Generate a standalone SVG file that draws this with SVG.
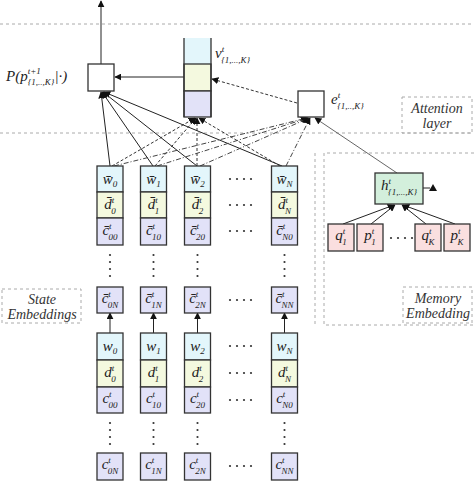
<svg xmlns="http://www.w3.org/2000/svg" width="474" height="481" viewBox="0 0 474 481">
<style>
.bx{stroke:#333;stroke-width:1.3}
.cy{fill:#e3f6fb}.yg{fill:#f4f9df}.lv{fill:#e2e2f8}.pk{fill:#fadfdf}.gr{fill:#d3efdc}.wh{fill:#fff}
text{font-family:'Liberation Serif','DejaVu Serif','Times New Roman',serif}
.m{font-style:italic;font-size:15px;fill:#222;text-anchor:middle}
.lab{font-style:italic;font-size:15px;fill:#222}
.s{font-size:9px}
.note{font-style:italic;font-size:14px;fill:#333;text-anchor:middle}
.gd{fill:none;stroke:#aaa;stroke-width:1;stroke-dasharray:3,3}
.dot{fill:#333}
.sl{fill:none;stroke:#222;stroke-width:1}
.dl{fill:none;stroke:#333;stroke-width:1;stroke-dasharray:3,2}
.dd{fill:none;stroke:#444;stroke-width:1;stroke-dasharray:5,2,1,2}
</style>
<defs>
<marker id="ah" viewBox="0 0 10 10" refX="9" refY="5" markerWidth="7" markerHeight="7" orient="auto" markerUnits="userSpaceOnUse"><path d="M0,0 L10,5 L0,10 z" fill="#111"/></marker>
<g id="hdots"><circle cx="0" cy="0" r="1.1" class="dot"/><circle cx="7" cy="0" r="1.1" class="dot"/><circle cx="14" cy="0" r="1.1" class="dot"/><circle cx="21" cy="0" r="1.1" class="dot"/></g>
<g id="vdots"><circle cx="0" cy="0" r="1.1" class="dot"/><circle cx="0" cy="7" r="1.1" class="dot"/><circle cx="0" cy="14" r="1.1" class="dot"/><circle cx="0" cy="21" r="1.1" class="dot"/></g>
</defs>
<rect width="474" height="481" fill="#fff"/>

<g id="regions">
<line x1="0" y1="24" x2="474" y2="24" class="gd"/>
<line x1="0" y1="133" x2="474" y2="133" class="gd"/>
<line x1="315" y1="153" x2="315" y2="325" class="gd"/>
<path d="M474,153 H324 V325 H474" class="gd"/>
</g>

<g id="attention-layer">
<rect x="402" y="97" width="70" height="36" class="gd"/>
<text x="437" y="113" class="note">Attention</text>
<text x="437" y="128" class="note">layer</text>
</g>
<g id="state-embeddings">
<rect x="2" y="289" width="79" height="34" class="gd"/>
<text x="42" y="304" class="note">State</text>
<text x="42" y="319" class="note">Embeddings</text>
</g>
<g id="memory-embedding">
<rect x="403" y="287" width="69" height="36" class="gd"/>
<text x="438" y="303" class="note">Memory</text>
<text x="438" y="318" class="note">Embedding</text>
</g>

<g id="connectors">
<line x1="101" y1="64" x2="101" y2="1" class="sl" marker-end="url(#ah)"/>
<line x1="184" y1="77" x2="115" y2="77" class="sl" marker-end="url(#ah)"/>
<line x1="297" y1="103" x2="212" y2="79" class="dl" marker-end="url(#ah)"/>
<line x1="397" y1="173" x2="315" y2="118" stroke="#555" stroke-width="0.9" fill="none" marker-end="url(#ah)"/>
<line x1="110" y1="166" x2="101" y2="92" class="sl" marker-end="url(#ah)"/>
<line x1="153" y1="166" x2="102" y2="92" class="sl" marker-end="url(#ah)"/>
<line x1="197" y1="166" x2="103" y2="92" class="sl" marker-end="url(#ah)"/>
<line x1="282" y1="166" x2="104" y2="92" class="sl" marker-end="url(#ah)"/>
<line x1="112" y1="166" x2="195" y2="118" class="dl" marker-end="url(#ah)"/>
<line x1="155" y1="166" x2="196" y2="118" class="dl" marker-end="url(#ah)"/>
<line x1="197" y1="166" x2="197" y2="118" class="dl" marker-end="url(#ah)"/>
<line x1="280" y1="166" x2="199" y2="118" class="dl" marker-end="url(#ah)"/>
<line x1="114" y1="166" x2="307" y2="118" class="dd" marker-end="url(#ah)"/>
<line x1="157" y1="166" x2="308" y2="118" class="dd" marker-end="url(#ah)"/>
<line x1="200" y1="166" x2="309" y2="118" class="dd" marker-end="url(#ah)"/>
<line x1="286" y1="166" x2="310" y2="118" class="dd" marker-end="url(#ah)"/>
<line x1="110" y1="333" x2="110" y2="313" class="sl" marker-end="url(#ah)"/>
<line x1="153.5" y1="333" x2="153.5" y2="313" class="sl" marker-end="url(#ah)"/>
<line x1="197.5" y1="333" x2="197.5" y2="313" class="sl" marker-end="url(#ah)"/>
<line x1="284.5" y1="333" x2="284.5" y2="313" class="sl" marker-end="url(#ah)"/>
<line x1="343" y1="224" x2="394" y2="205" class="sl" marker-end="url(#ah)"/>
<line x1="371" y1="224" x2="395" y2="205" class="sl" marker-end="url(#ah)"/>
<line x1="426" y1="224" x2="402" y2="205" class="sl" marker-end="url(#ah)"/>
<line x1="455" y1="224" x2="403" y2="205" class="sl" marker-end="url(#ah)"/>
<line x1="423" y1="188" x2="430" y2="188" class="sl"/>
<polygon points="429,191 433,184 437,191" fill="#111"/>
</g>

<g id="P">
<rect x="88" y="64" width="26" height="27" class="bx wh"/>
<text x="6" y="81" class="lab">P(p<tspan class="s" dy="-7">t+1</tspan><tspan class="s" dx="-13" dy="11">{1,..,K}</tspan><tspan dy="-4">|·)</tspan></text>
</g>

<g id="v">
<rect x="184" y="38" width="27" height="26" class="cy"/>
<rect x="184" y="64" width="27" height="27" class="yg bx"/>
<rect x="184" y="91" width="27" height="26" class="lv bx"/>
<path d="M184,38 V117 M211,38 V117" class="bx" fill="none"/>
<text x="215" y="58" class="lab">v<tspan class="s" dy="-6">t</tspan><tspan class="s" dx="-3" dy="11">{1,...,K}</tspan></text>
</g>

<g id="e">
<rect x="298" y="91" width="26" height="26" class="bx wh"/>
<text x="331" y="104" class="lab" font-style="normal">e<tspan class="s" font-style="italic" dy="-6">t</tspan><tspan class="s" font-style="italic" dx="-3" dy="11">{1,..,K}</tspan></text>
</g>

<g id="col0">
<rect x="97" y="166" width="26" height="26" class="bx cy"/>
<rect x="97" y="192" width="26" height="26" class="bx yg"/>
<rect x="97" y="218" width="26" height="27" class="bx lv"/>
<text x="110" y="184" class="m">w̄<tspan class="s" dy="3">0</tspan></text>
<text x="110" y="209" class="m">d̄<tspan class="s" dy="-6">t</tspan><tspan class="s" dx="-3" dy="11">0</tspan></text>
<text x="110" y="235" class="m">c̄<tspan class="s" dy="-6">t</tspan><tspan class="s" dx="-3" dy="11">00</tspan></text>
<use href="#vdots" x="110" y="255"/>
<rect x="97" y="287" width="26" height="26" class="bx lv"/>
<text x="110" y="303" class="m">c̄<tspan class="s" dy="-6">t</tspan><tspan class="s" dx="-3" dy="11">0N</tspan></text>
<rect x="97" y="333" width="26" height="27" class="bx cy"/>
<rect x="97" y="360" width="26" height="27" class="bx yg"/>
<rect x="97" y="387" width="26" height="26" class="bx lv"/>
<text x="110" y="351" class="m">w<tspan class="s" dy="3">0</tspan></text>
<text x="110" y="377" class="m">d<tspan class="s" dy="-6">t</tspan><tspan class="s" dx="-3" dy="11">0</tspan></text>
<text x="110" y="403" class="m">c<tspan class="s" dy="-6">t</tspan><tspan class="s" dx="-3" dy="11">00</tspan></text>
<use href="#vdots" x="110" y="423"/>
<rect x="97" y="453" width="26" height="27" class="bx lv"/>
<text x="110" y="469" class="m">c<tspan class="s" dy="-6">t</tspan><tspan class="s" dx="-3" dy="11">0N</tspan></text>
</g>

<g id="col1">
<rect x="140.5" y="166" width="26" height="26" class="bx cy"/>
<rect x="140.5" y="192" width="26" height="26" class="bx yg"/>
<rect x="140.5" y="218" width="26" height="27" class="bx lv"/>
<text x="153.5" y="184" class="m">w̄<tspan class="s" dy="3">1</tspan></text>
<text x="153.5" y="209" class="m">d̄<tspan class="s" dy="-6">t</tspan><tspan class="s" dx="-3" dy="11">1</tspan></text>
<text x="153.5" y="235" class="m">c̄<tspan class="s" dy="-6">t</tspan><tspan class="s" dx="-3" dy="11">10</tspan></text>
<use href="#vdots" x="153.5" y="255"/>
<rect x="140.5" y="287" width="26" height="26" class="bx lv"/>
<text x="153.5" y="303" class="m">c̄<tspan class="s" dy="-6">t</tspan><tspan class="s" dx="-3" dy="11">1N</tspan></text>
<rect x="140.5" y="333" width="26" height="27" class="bx cy"/>
<rect x="140.5" y="360" width="26" height="27" class="bx yg"/>
<rect x="140.5" y="387" width="26" height="26" class="bx lv"/>
<text x="153.5" y="351" class="m">w<tspan class="s" dy="3">1</tspan></text>
<text x="153.5" y="377" class="m">d<tspan class="s" dy="-6">t</tspan><tspan class="s" dx="-3" dy="11">1</tspan></text>
<text x="153.5" y="403" class="m">c<tspan class="s" dy="-6">t</tspan><tspan class="s" dx="-3" dy="11">10</tspan></text>
<use href="#vdots" x="153.5" y="423"/>
<rect x="140.5" y="453" width="26" height="27" class="bx lv"/>
<text x="153.5" y="469" class="m">c<tspan class="s" dy="-6">t</tspan><tspan class="s" dx="-3" dy="11">1N</tspan></text>
</g>

<g id="col2">
<rect x="184.5" y="166" width="26" height="26" class="bx cy"/>
<rect x="184.5" y="192" width="26" height="26" class="bx yg"/>
<rect x="184.5" y="218" width="26" height="27" class="bx lv"/>
<text x="197.5" y="184" class="m">w̄<tspan class="s" dy="3">2</tspan></text>
<text x="197.5" y="209" class="m">d̄<tspan class="s" dy="-6">t</tspan><tspan class="s" dx="-3" dy="11">2</tspan></text>
<text x="197.5" y="235" class="m">c̄<tspan class="s" dy="-6">t</tspan><tspan class="s" dx="-3" dy="11">20</tspan></text>
<use href="#vdots" x="197.5" y="255"/>
<rect x="184.5" y="287" width="26" height="26" class="bx lv"/>
<text x="197.5" y="303" class="m">c̄<tspan class="s" dy="-6">t</tspan><tspan class="s" dx="-3" dy="11">2N</tspan></text>
<rect x="184.5" y="333" width="26" height="27" class="bx cy"/>
<rect x="184.5" y="360" width="26" height="27" class="bx yg"/>
<rect x="184.5" y="387" width="26" height="26" class="bx lv"/>
<text x="197.5" y="351" class="m">w<tspan class="s" dy="3">2</tspan></text>
<text x="197.5" y="377" class="m">d<tspan class="s" dy="-6">t</tspan><tspan class="s" dx="-3" dy="11">2</tspan></text>
<text x="197.5" y="403" class="m">c<tspan class="s" dy="-6">t</tspan><tspan class="s" dx="-3" dy="11">20</tspan></text>
<use href="#vdots" x="197.5" y="423"/>
<rect x="184.5" y="453" width="26" height="27" class="bx lv"/>
<text x="197.5" y="469" class="m">c<tspan class="s" dy="-6">t</tspan><tspan class="s" dx="-3" dy="11">2N</tspan></text>
</g>

<g id="hdots-rows">
<use href="#hdots" x="230" y="179"/>
<use href="#hdots" x="230" y="205"/>
<use href="#hdots" x="230" y="231"/>
<use href="#hdots" x="230" y="300"/>
<use href="#hdots" x="230" y="346"/>
<use href="#hdots" x="230" y="373"/>
<use href="#hdots" x="230" y="400"/>
<use href="#hdots" x="230" y="466"/>
</g>

<g id="colN">
<rect x="271.5" y="166" width="26" height="26" class="bx cy"/>
<rect x="271.5" y="192" width="26" height="26" class="bx yg"/>
<rect x="271.5" y="218" width="26" height="27" class="bx lv"/>
<text x="284.5" y="184" class="m">w̄<tspan class="s" dy="3">N</tspan></text>
<text x="284.5" y="209" class="m">d̄<tspan class="s" dy="-6">t</tspan><tspan class="s" dx="-3" dy="11">N</tspan></text>
<text x="284.5" y="235" class="m">c̄<tspan class="s" dy="-6">t</tspan><tspan class="s" dx="-3" dy="11">N0</tspan></text>
<use href="#vdots" x="284.5" y="255"/>
<rect x="271.5" y="287" width="26" height="26" class="bx lv"/>
<text x="284.5" y="303" class="m">c̄<tspan class="s" dy="-6">t</tspan><tspan class="s" dx="-3" dy="11">NN</tspan></text>
<rect x="271.5" y="333" width="26" height="27" class="bx cy"/>
<rect x="271.5" y="360" width="26" height="27" class="bx yg"/>
<rect x="271.5" y="387" width="26" height="26" class="bx lv"/>
<text x="284.5" y="351" class="m">w<tspan class="s" dy="3">N</tspan></text>
<text x="284.5" y="377" class="m">d<tspan class="s" dy="-6">t</tspan><tspan class="s" dx="-3" dy="11">N</tspan></text>
<text x="284.5" y="403" class="m">c<tspan class="s" dy="-6">t</tspan><tspan class="s" dx="-3" dy="11">N0</tspan></text>
<use href="#vdots" x="284.5" y="423"/>
<rect x="271.5" y="453" width="26" height="27" class="bx lv"/>
<text x="284.5" y="469" class="m">c<tspan class="s" dy="-6">t</tspan><tspan class="s" dx="-3" dy="11">NN</tspan></text>
</g>

<g id="h">
<rect x="375" y="173" width="48" height="31" class="bx gr"/>
<text x="399" y="190" class="m">h<tspan class="s" dy="-6">t</tspan><tspan class="s" dx="-3" dy="11">{1,...,K}</tspan></text>
</g>

<g id="memory">
<rect x="328" y="224" width="26" height="27" class="bx pk"/>
<text x="341" y="240" class="m">q<tspan class="s" dy="-6">t</tspan><tspan class="s" dx="-3" dy="11">1</tspan></text>
<rect x="357" y="224" width="26" height="27" class="bx pk"/>
<text x="370" y="240" class="m">p<tspan class="s" dy="-6">t</tspan><tspan class="s" dx="-3" dy="11">1</tspan></text>
<use href="#hdots" x="391" y="238"/>
<rect x="415" y="224" width="26" height="27" class="bx pk"/>
<text x="428" y="240" class="m">q<tspan class="s" dy="-6">t</tspan><tspan class="s" dx="-3" dy="11">K</tspan></text>
<rect x="444" y="224" width="26" height="27" class="bx pk"/>
<text x="457" y="240" class="m">p<tspan class="s" dy="-6">t</tspan><tspan class="s" dx="-3" dy="11">K</tspan></text>
</g>
</svg>
